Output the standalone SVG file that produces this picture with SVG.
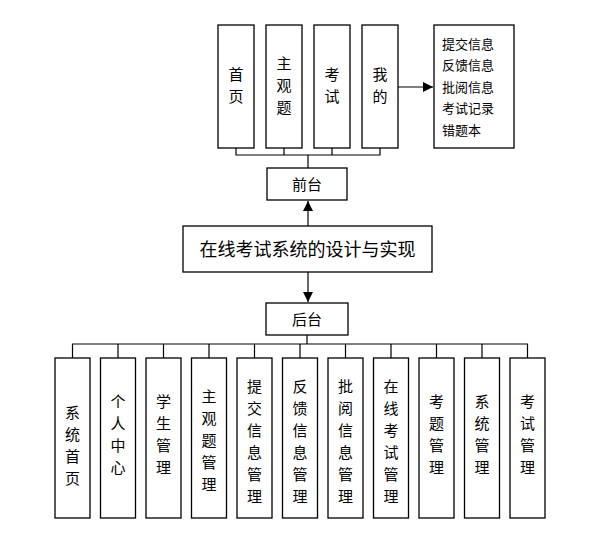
<svg xmlns="http://www.w3.org/2000/svg" width="616" height="542" viewBox="0 0 616 542">
<style>
rect{fill:#fff;stroke:#000;stroke-width:1.3}
text{font-family:"Noto Sans CJK SC",sans-serif;font-size:15px;text-anchor:middle;fill:#000}
.s{font-size:13px;text-anchor:start}
.c line,.c path{stroke:#000;stroke-width:1.2;fill:none}
</style>
<defs><marker id="a" viewBox="0 0 10 10" refX="10" refY="5" markerWidth="10" markerHeight="10" markerUnits="userSpaceOnUse" orient="auto"><path d="M0,0L10,5L0,10z" fill="#000"/></marker></defs>
<g class="c">
<path d="M236,148V155H380V148M284,148V155M332,148V155M308,155V168"/>
<line x1="398" y1="87" x2="433" y2="87" marker-end="url(#a)"/>
<line x1="308" y1="226" x2="308" y2="201" marker-end="url(#a)"/>
<line x1="308" y1="272" x2="308" y2="302" marker-end="url(#a)"/>
<path d="M307,335V344M72.5,358V344H527.5V358M118,344V358M163.5,344V358M209,344V358M254.5,344V358M300,344V358M345.5,344V358M391,344V358M436.5,344V358M482,344V358"/>
</g>
<g id="n1"><rect x="218" y="25" width="36" height="123"/><text x="236" y="80">首</text><text x="236" y="102">页</text></g>
<g id="n2"><rect x="266" y="25" width="36" height="123"/><text x="284" y="69">主</text><text x="284" y="91">观</text><text x="284" y="113">题</text></g>
<g id="n3"><rect x="314" y="25" width="36" height="123"/><text x="332" y="80">考</text><text x="332" y="102">试</text></g>
<g id="n4"><rect x="362" y="25" width="36" height="123"/><text x="380" y="80">我</text><text x="380" y="102">的</text></g>
<g id="n5"><rect x="434" y="25" width="80" height="123"/>
<text class="s" x="442" y="49">提交信息</text><text class="s" x="442" y="70">反馈信息</text><text class="s" x="442" y="92">批阅信息</text><text class="s" x="442" y="113">考试记录</text><text class="s" x="442" y="135">错题本</text></g>
<g id="front"><rect x="267" y="168" width="80" height="32"/><text x="307" y="190">前台</text></g>
<g id="main"><rect x="183" y="226" width="249" height="46"/><text x="307.5" y="256" style="font-size:18px">在线考试系统的设计与实现</text></g>
<g id="back"><rect x="266" y="303" width="82" height="32"/><text x="307" y="325">后台</text></g>
<g id="b1"><rect x="55" y="358" width="35" height="160"/><text x="72.5" y="418">系</text><text x="72.5" y="440">统</text><text x="72.5" y="462">首</text><text x="72.5" y="484">页</text></g>
<g id="b2"><rect x="100.5" y="358" width="35" height="160"/><text x="118" y="407">个</text><text x="118" y="429">人</text><text x="118" y="451">中</text><text x="118" y="473">心</text></g>
<g id="b3"><rect x="146" y="358" width="35" height="160"/><text x="163.5" y="407">学</text><text x="163.5" y="429">生</text><text x="163.5" y="451">管</text><text x="163.5" y="473">理</text></g>
<g id="b4"><rect x="191.5" y="358" width="35" height="160"/><text x="209" y="402">主</text><text x="209" y="424">观</text><text x="209" y="446">题</text><text x="209" y="468">管</text><text x="209" y="490">理</text></g>
<g id="b5"><rect x="237" y="358" width="35" height="160"/><text x="254.5" y="392">提</text><text x="254.5" y="414">交</text><text x="254.5" y="436">信</text><text x="254.5" y="458">息</text><text x="254.5" y="480">管</text><text x="254.5" y="502">理</text></g>
<g id="b6"><rect x="282.5" y="358" width="35" height="160"/><text x="300" y="392">反</text><text x="300" y="414">馈</text><text x="300" y="436">信</text><text x="300" y="458">息</text><text x="300" y="480">管</text><text x="300" y="502">理</text></g>
<g id="b7"><rect x="328" y="358" width="35" height="160"/><text x="345.5" y="392">批</text><text x="345.5" y="414">阅</text><text x="345.5" y="436">信</text><text x="345.5" y="458">息</text><text x="345.5" y="480">管</text><text x="345.5" y="502">理</text></g>
<g id="b8"><rect x="373.5" y="358" width="35" height="160"/><text x="391" y="392">在</text><text x="391" y="414">线</text><text x="391" y="436">考</text><text x="391" y="458">试</text><text x="391" y="480">管</text><text x="391" y="502">理</text></g>
<g id="b9"><rect x="419" y="358" width="35" height="160"/><text x="436.5" y="407">考</text><text x="436.5" y="429">题</text><text x="436.5" y="451">管</text><text x="436.5" y="473">理</text></g>
<g id="b10"><rect x="464.5" y="358" width="35" height="160"/><text x="482" y="407">系</text><text x="482" y="429">统</text><text x="482" y="451">管</text><text x="482" y="473">理</text></g>
<g id="b11"><rect x="510" y="358" width="35" height="160"/><text x="527.5" y="407">考</text><text x="527.5" y="429">试</text><text x="527.5" y="451">管</text><text x="527.5" y="473">理</text></g>
</svg>
